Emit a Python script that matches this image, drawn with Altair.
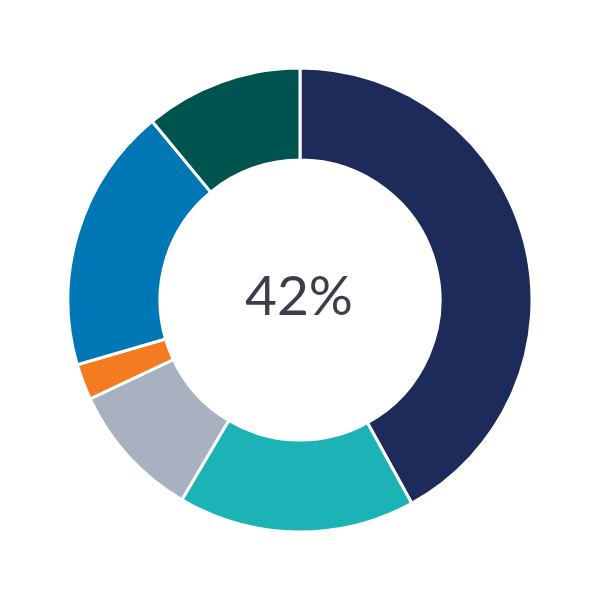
import altair as alt
import pandas as pd

categories = ["A", "B", "C", "D", "E", "F"]
values = [42, 16.5, 9.5, 2.5, 18.5, 11]
colors = ["#1c2b59", "#1bb3b5", "#a7b1bf", "#f47c20", "#0077b5", "#005450"]
center_label = "42%"

df = pd.DataFrame({"cat": categories, "value": values, "order": list(range(len(categories)))})

arcs = alt.Chart(df).mark_arc(outerRadius=232, innerRadius=140, stroke="white", strokeWidth=3).encode(
    theta=alt.Theta("value:Q", stack=True),
    color=alt.Color("cat:N", scale=alt.Scale(domain=categories, range=colors), legend=None),
    order=alt.Order("order:Q"),
)

text = alt.Chart(pd.DataFrame({"t": [center_label]})).mark_text(
    fontSize=55, font="Lato", color="#3a3f4b", align="center", baseline="middle"
).encode(text="t:N", x=alt.value(291), y=alt.value(290))

chart = alt.layer(arcs, text).properties(
    width=584, height=584, padding=0,
    autosize=alt.AutoSizeParams(type="fit", contains="padding"),
).configure_view(stroke=None)

chart.save("out.html", embed_options={"renderer": "svg", "actions": False})
